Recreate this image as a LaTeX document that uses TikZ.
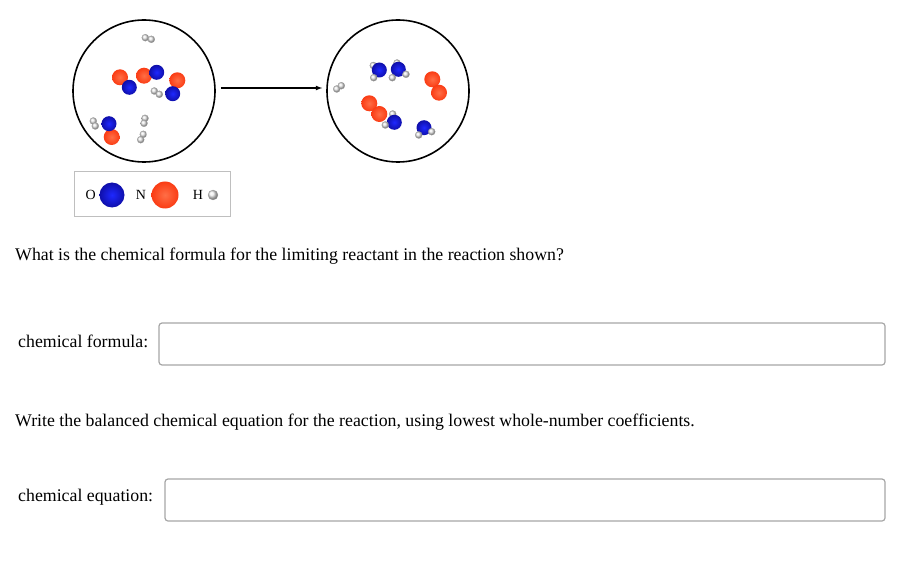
\documentclass[tikz,border=0pt]{standalone}
\usepackage{fontspec}
\usetikzlibrary{calc}
\setmainfont{Liberation Serif}
\definecolor{nin}{RGB}{255,110,70}
\definecolor{nout}{RGB}{250,60,20}
\definecolor{oin}{RGB}{30,40,255}
\definecolor{oout}{RGB}{15,15,170}
\begin{document}
\begin{tikzpicture}[x=1pt,y=-1pt,
 oat/.style={circle,inner sep=0pt,minimum size=15pt,inner color=oin,outer color=oout},
 nat/.style={circle,inner sep=0pt,minimum size=16pt,inner color=nin,outer color=nout},
 hat/.style={circle,inner sep=0pt,minimum size=7pt,shading=ball,ball color=white!85!gray,draw=gray!70,line width=0.3pt},
 txt/.style={font=\fontsize{17.8pt}{20pt}\selectfont,anchor=west,inner sep=0pt},
 lg/.style={font=\fontsize{14pt}{16pt}\selectfont,inner sep=0pt},
 abox/.style={draw=gray!70,rounded corners=3pt,line width=1.2pt}]
\useasboundingbox (0,0) rectangle (907,588);
\node[circle,draw,line width=1.6pt,minimum size=142pt,inner sep=0pt] (c1) at (144,91) {};
\node[circle,draw,line width=1.6pt,minimum size=142pt,inner sep=0pt] (c2) at (398,91) {};
\draw[line width=1.2pt,-latex] ($(c1.east)+(5,-3)$) coordinate (a1) -- ($(c2.west)+(-4,-3)$) coordinate (a2);
% left
\node[hat] at (145.3,37.7){};\node[hat] at (151.3,39.3){};
\node[nat] at (120,77.3){};\node[oat] at (129.3,87.3){};
\node[nat] at (144,75.7){};\node[oat] at (156.7,72.3){};
\node[hat] at (154.3,91){};\node[hat] at (159.3,94.3){};
\node[nat] at (177.3,80.3){};\node[oat] at (172.7,93.7){};
\node[hat] at (93.3,121){};\node[hat] at (95.3,126){};
\node[nat] at (111.7,137){};\node[oat] at (109,123.7){};
\node[hat] at (145,118.3){};\node[hat] at (144,123.3){};
\node[hat] at (143.3,134.3){};\node[hat] at (140.7,139.7){};
% right
\node[hat] at (336.7,89){};\node[hat] at (341.3,85.7){};
\node[hat] at (373.3,65.5){};\node[oat] at (379.3,70){};\node[hat] at (373.7,77.7){};
\node[hat] at (397,63){};\node[oat] at (398.3,69.3){};\node[hat] at (406,74.3){};\node[hat] at (392.3,77.7){};
\node[nat] at (432.3,79.3){};\node[nat] at (439,92.7){};
\node[nat] at (369.3,103.3){};\node[nat] at (379.3,114){};
\node[hat] at (392.7,114){};\node[oat] at (394.3,122.3){};\node[hat] at (385.3,125){};
\node[oat] at (424,127.7){};\node[hat] at (431.7,131.7){};\node[hat] at (418.7,135){};
% legend
\draw[draw=gray!50,line width=1pt] (74,172) rectangle (230.7,216.7);
\node[lg] (lo) at (90.7,195) {O};
\node[oat,minimum size=25pt] (bo) at (112,195) {};
\node[lg] (ln) at (141,195) {N};
\node[nat,minimum size=27pt] (bn) at (165,195) {};
\node[lg] (lh) at (198,195) {H};
\node[hat,minimum size=10pt] (bh) at (213,195) {};
% texts
\node[txt] (q1) at (15,256) {What is the chemical formula for the limiting reactant in the reaction shown?};
\node[txt] (l1) at (18,341) {chemical formula:};
\draw[abox] (159,323) rectangle (885,365);
\node[txt] (q2) at (15,422) {Write the balanced chemical equation for the reaction, using lowest whole-number coefficients.};
\node[txt] (l2) at (18,497) {chemical equation:};
\draw[abox] (165,479) rectangle (885,521);
\end{tikzpicture}
\end{document}
